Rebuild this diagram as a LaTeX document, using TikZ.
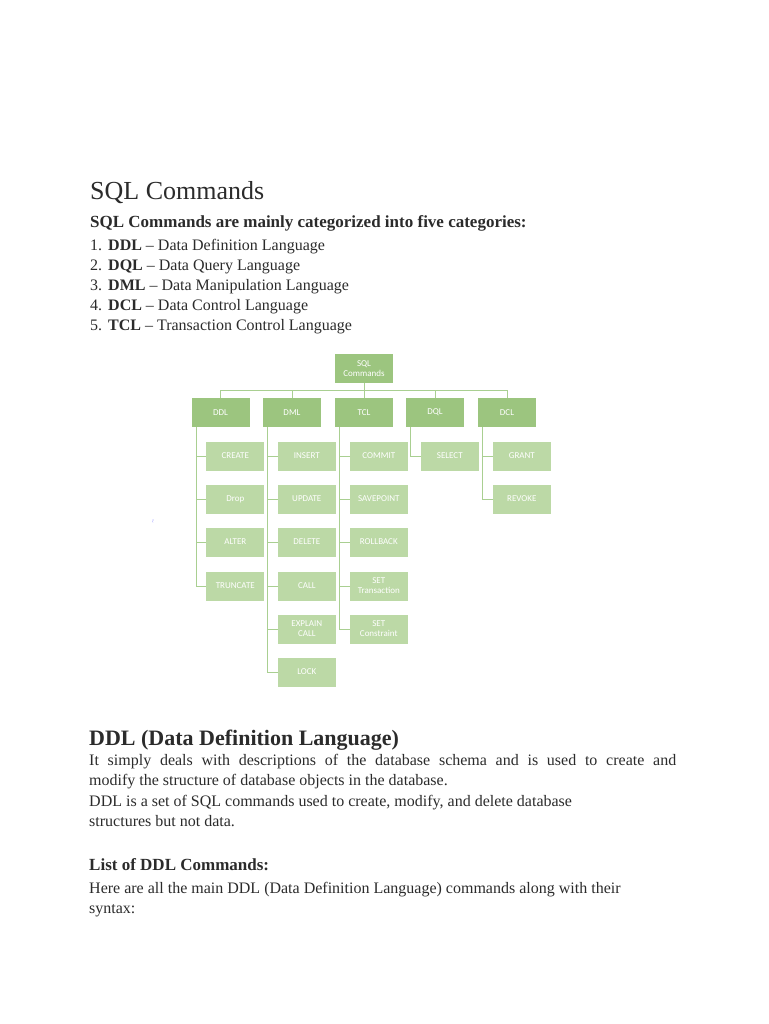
\documentclass[tikz,border=0pt]{standalone}
\usepackage{fontspec}
\setmainfont{Liberation Serif}
\newfontfamily\boxfont{Carlito}
\definecolor{txt}{HTML}{2B2B2B}
\definecolor{dk}{HTML}{9CC57F}
\definecolor{lt}{HTML}{BCD9A6}
\definecolor{ln}{HTML}{A9CF91}
\begin{document}
\begin{tikzpicture}[x=1pt,y=-1pt,
  tl/.style={anchor=base west,inner sep=0pt,text=txt,font=\fontsize{16}{19}\selectfont},
  top/.style={fill=dk,minimum width=58pt,minimum height=29pt,inner sep=0pt,text=white,align=center,font=\boxfont\fontsize{9}{12}\selectfont},
  kid/.style={fill=lt,minimum width=58pt,minimum height=29pt,inner sep=0pt,text=white,align=center,font=\boxfont\fontsize{9}{12}\selectfont},
  conn/.style={draw=ln,line width=1pt}]
\useasboundingbox (0,0) rectangle (768,1024);
\node[tl,font=\fontsize{26}{30}\selectfont] (title) at (90,200) {SQL Commands};
\node[tl,font=\bfseries\fontsize{17}{20}\selectfont] (sub) at (90,227) {SQL Commands are mainly categorized into five categories:};
\node[tl] (l1) at (90,250) {1.\hspace{6pt}\textbf{DDL} -- Data Definition Language};
\node[tl] (l2) at (90,270) {2.\hspace{6pt}\textbf{DQL} -- Data Query Language};
\node[tl] (l3) at (90,290) {3.\hspace{6pt}\textbf{DML} -- Data Manipulation Language};
\node[tl] (l4) at (90,310) {4.\hspace{6pt}\textbf{DCL} -- Data Control Language};
\node[tl] (l5) at (90,330) {5.\hspace{6pt}\textbf{TCL} -- Transaction Control Language};
% diagram
\node[top] (sql) at (364,368.5) {SQL\\[-2pt]Commands};
\coordinate (bus) at (364,390);
\foreach \n/\x in {ddl/220.5,dml/292,tcl/364,dql/435,dcl/507}{
  \coordinate (\n b) at (\x,390);
}
\node[top] (ddl) at (220.5,412.5) {DDL};
\node[top] (dml) at (292,412.5) {DML};
\node[top] (tcl) at (364,412.5) {TCL};
\node[top] (dql) at (435,412.5) {DQL};
\node[top] (dcl) at (507,412.5) {DCL};
\draw[conn] (sql.south) -- (bus);
\draw[conn] (ddlb) -- (dclb);
\foreach \n in {ddl,dml,tcl,dql,dcl}{\draw[conn] (\n b) -- (\n.north);}
\newcommand\kidrow[4]{% parent, name, row y, text
  \node[kid] (#2) at ($(#1.west)+(44,0)$) {};}
\foreach \p/\lst in {ddl/{c1/456/CREATE,c2/499/Drop,c3/542/ALTER,c4/586/TRUNCATE},
  dml/{m1/456/INSERT,m2/499/UPDATE,m3/542/DELETE,m4/586/CALL,m5/629/{EXPLAIN\\[-2pt]CALL},m6/672/LOCK},
  tcl/{t1/456/COMMIT,t2/499/SAVEPOINT,t3/542/ROLLBACK,t4/586/{SET\\[-2pt]Transaction},t5/629/{SET\\[-2pt]Constraint}},
  dql/{q1/456/SELECT},
  dcl/{g1/456/GRANT,g2/499/REVOKE}}{
  \foreach \k/\y/\t in \lst{
    \path (\p.south west) ++(44,0) coordinate (tmp);
    \node[kid] (\k) at (tmp |- 0,\y) {\t};
    \draw[conn] (\p.south west) ++(5,0) |- (\k.west);
  }
}
\node[text=blue!50,font=\tiny,inner sep=0pt] (ic) at (153,521) {$\wr$};
% lower text
\node[tl,font=\bfseries\fontsize{22}{26}\selectfont] (h2) at (89,745) {DDL (Data Definition Language)};
\node[tl] (b1) at (89,765) {\makebox[587pt][s]{It simply deals with descriptions of the database schema and is used to create and}};
\node[tl] (b2) at (89,785) {modify the structure of database objects in the database.};
\node[tl] (b3) at (89,806) {DDL is a set of SQL commands used to create, modify, and delete database};
\node[tl] (b4) at (89,826) {structures but not data.};
\node[tl,font=\bfseries\fontsize{17}{20}\selectfont] (h3) at (89,870) {List of DDL Commands:};
\node[tl] (b5) at (89,893) {Here are all the main DDL (Data Definition Language) commands along with their};
\node[tl] (b6) at (89,913) {syntax:};
\end{tikzpicture}
\end{document}
